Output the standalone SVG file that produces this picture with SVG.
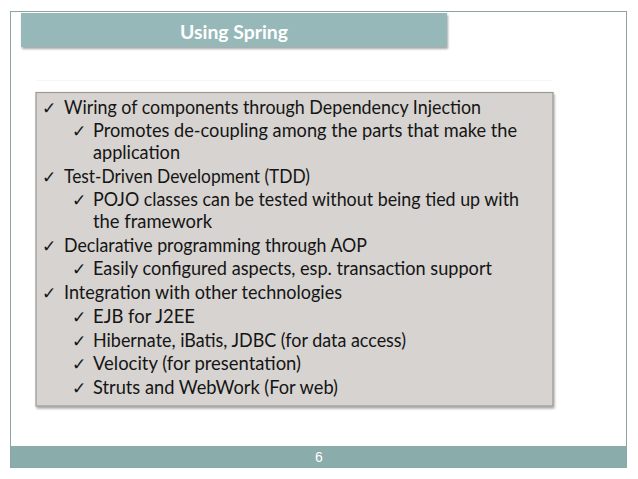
<svg xmlns="http://www.w3.org/2000/svg" width="638" height="479" viewBox="0 0 638 479">
  <defs>
    <filter id="shadow" x="-5%" y="-10%" width="110%" height="125%">
      <feDropShadow dx="1" dy="2" stdDeviation="1.2" flood-color="#000" flood-opacity="0.35"/>
    </filter>
  </defs>
  <style>
    .frame { fill: #ffffff; stroke: #8ca4a4; stroke-width: 1; }
    .title-bar { fill: #96b8b9; }
    .footer-bar { fill: #8aacab; }
    .box { fill: #d6d3d0; stroke: #9c9894; stroke-width: 1.2; }
    .title { font-family: Lato, "Open Sans", "Liberation Sans", sans-serif; font-weight: bold; font-size: 18px; fill: #ffffff; }
    .item { font-family: Lato, "Open Sans", "Liberation Sans", sans-serif; font-size: 18.5px; fill: #151515; }
    .chk { font-family: "DejaVu Sans", sans-serif; font-size: 17px; fill: #151515; }
    .pg { font-family: "Liberation Sans", Arial, sans-serif; font-size: 14px; fill: #ffffff; }
  </style>
  <rect width="638" height="479" fill="#ffffff"/>

  <g id="slide-frame">
    <rect class="frame" x="10.5" y="11.5" width="616" height="456"/>
    <line x1="36" y1="80.5" x2="553" y2="80.5" stroke="#f5f5f5" stroke-width="1"/>
  </g>

  <g id="title">
    <rect class="title-bar" x="21" y="13" width="426" height="34" filter="url(#shadow)"/>
    <text class="title" x="234" y="39" text-anchor="middle" textLength="108" lengthAdjust="spacingAndGlyphs">Using Spring</text>
  </g>

  <g id="content-box">
    <rect class="box" x="36" y="92.5" width="517" height="313.5" filter="url(#shadow)"/>
    <g id="bullets">
      <text class="chk" x="42" y="113.5">✓</text>
      <text class="item" x="64" y="113.5" textLength="417" lengthAdjust="spacingAndGlyphs">Wiring of components through Dependency Injection</text>

      <text class="chk" x="72" y="137">✓</text>
      <text class="item" x="93" y="137" textLength="424" lengthAdjust="spacingAndGlyphs">Promotes de-coupling among the parts that make the</text>
      <text class="item" x="93" y="158.5" textLength="87" lengthAdjust="spacingAndGlyphs">application</text>

      <text class="chk" x="42" y="182.5">✓</text>
      <text class="item" x="64" y="182.5" textLength="246" lengthAdjust="spacingAndGlyphs">Test-Driven Development (TDD)</text>

      <text class="chk" x="72" y="206.3">✓</text>
      <text class="item" x="93" y="206.3" textLength="426" lengthAdjust="spacingAndGlyphs">POJO classes can be tested without being tied up with</text>
      <text class="item" x="93" y="228" textLength="119" lengthAdjust="spacingAndGlyphs">the framework</text>

      <text class="chk" x="42" y="251.5">✓</text>
      <text class="item" x="64" y="251.5" textLength="303" lengthAdjust="spacingAndGlyphs">Declarative programming through AOP</text>

      <text class="chk" x="72" y="275.3">✓</text>
      <text class="item" x="93" y="275.3" textLength="399" lengthAdjust="spacingAndGlyphs">Easily configured aspects, esp. transaction support</text>

      <text class="chk" x="42" y="299">✓</text>
      <text class="item" x="64" y="299" textLength="278" lengthAdjust="spacingAndGlyphs">Integration with other technologies</text>

      <text class="chk" x="72" y="322.8">✓</text>
      <text class="item" x="93" y="322.8" textLength="102" lengthAdjust="spacingAndGlyphs">EJB for J2EE</text>

      <text class="chk" x="72" y="346.5">✓</text>
      <text class="item" x="93" y="346.5" textLength="313" lengthAdjust="spacingAndGlyphs">Hibernate, iBatis, JDBC (for data access)</text>

      <text class="chk" x="72" y="370.3">✓</text>
      <text class="item" x="93" y="370.3" textLength="208" lengthAdjust="spacingAndGlyphs">Velocity (for presentation)</text>

      <text class="chk" x="72" y="394">✓</text>
      <text class="item" x="93" y="394" textLength="245" lengthAdjust="spacingAndGlyphs">Struts and WebWork (For web)</text>
    </g>
  </g>

  <g id="footer">
    <rect class="footer-bar" x="11" y="446" width="615.5" height="21.5"/>
    <text class="pg" x="319" y="462" text-anchor="middle">6</text>
  </g>

  <g id="connectors"/>
</svg>
